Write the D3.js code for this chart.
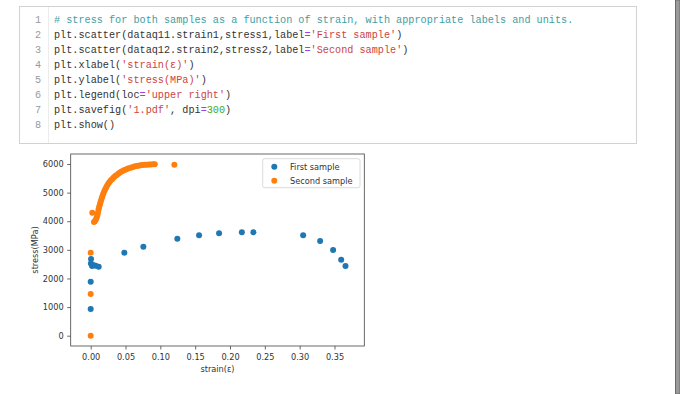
<!DOCTYPE html>
<html><head><meta charset="utf-8">
<script src="https://cdn.jsdelivr.net/npm/d3@7"></script>
<style>
html,body{margin:0;padding:0;background:#fff;}
svg{display:block;}
</style></head>
<body>
<svg id="c" width="680" height="394"></svg>
<script>
// ---- data ----
const seriesNames = ["First sample", "Second sample"];
const strain1 = [0, 0, 0.0005, 0.0003, 0.002, 0.0037, 0.0072, 0.0115, 0.0483, 0.0756, 0.1244, 0.1556, 0.1843, 0.217, 0.2336, 0.305, 0.3294, 0.348, 0.3596, 0.3658];
const stress1 = [933, 1887, 2680, 2520, 2440, 2470, 2446, 2411, 2900, 3110, 3390, 3508, 3578, 3613, 3613, 3508, 3309, 2995, 2656, 2436];
const strain2 = [0, 0, 0, 0.0023, 0.0047, 0.0060, 0.0075, 0.0085, 0.0095, 0.0105, 0.0112, 0.0120, 0.0128, 0.0136, 0.0145, 0.0155, 0.0165, 0.0178, 0.0190, 0.0205, 0.0220, 0.0235, 0.0252, 0.0270, 0.0290, 0.0310, 0.0330, 0.0352, 0.0375, 0.0400, 0.0425, 0.0450, 0.0478, 0.0505, 0.0535, 0.0565, 0.0595, 0.0625, 0.0655, 0.0685, 0.0715, 0.0745, 0.0775, 0.0805, 0.0835, 0.0865, 0.0895, 0.0920, 0.1201];
const stress2 = [0, 1457, 2900, 4298, 3970, 4000, 4060, 4120, 4200, 4300, 4400, 4480, 4550, 4620, 4700, 4780, 4860, 4940, 5020, 5100, 5170, 5240, 5310, 5370, 5430, 5480, 5530, 5580, 5620, 5670, 5710, 5745, 5780, 5810, 5840, 5865, 5890, 5910, 5928, 5942, 5955, 5965, 5972, 5978, 5982, 5985, 5988, 5990, 5976];
const xTicks = [0, 0.05, 0.10, 0.15, 0.20, 0.25, 0.30, 0.35];
const yTicks = [0, 1000, 2000, 3000, 4000, 5000, 6000];
const xLabel = "strain(ε)";
const yLabel = "stress(MPa)";

// code cell lines: [text, style]
const codeLines = [
  [["# stress for both samples as a function of strain, with appropriate labels and units.", "c"]],
  [["plt.scatter(dataq11.strain1,stress1,label", "n"], ["=", "o"], ["'First sample'", "s"], [")", "n"]],
  [["plt.scatter(dataq12.strain2,stress2,label", "n"], ["=", "o"], ["'Second sample'", "s"], [")", "n"]],
  [["plt.xlabel(", "n"], ["'strain(ε)'", "s"], [")", "n"]],
  [["plt.ylabel(", "n"], ["'stress(MPa)'", "s"], [")", "n"]],
  [["plt.legend(loc", "n"], ["=", "o"], ["'upper right'", "s"], [")", "n"]],
  [["plt.savefig(", "n"], ["'1.pdf'", "s"], [", dpi", "n"], ["=", "o"], ["300", "m"], [")", "n"]],
  [["plt.show()", "n"]]
];

const svg = d3.select("#c");
const colors = {c: "#3f9ea3", n: "#333", o: "#a040e0", s: "#cc4444", m: "#33aa33"};
const seriesColors = ["#1f77b4", "#ff7f0e"];

// ---- code cell ----
svg.append("rect").attr("x", 19.5).attr("y", 6.5).attr("width", 617).attr("height", 137)
  .attr("fill", "#fff").attr("stroke", "#d2d2d2").attr("stroke-width", 1);
svg.append("line").attr("x1", 48.5).attr("x2", 48.5).attr("y1", 7).attr("y2", 143)
  .attr("stroke", "#ececec").attr("stroke-width", 1);
const codeFs = 11.5, charW = 6.11, x0 = 54, baseY = 23.3, lineH = 14.89;
const sx = charW / (0.6001 * codeFs);
codeLines.forEach((toks, i) => {
  const y = baseY + i * lineH;
  svg.append("text").attr("transform", `translate(41,${y}) scale(${sx},1)`).attr("text-anchor", "end")
    .attr("font-family", "Liberation Mono").attr("font-size", codeFs).attr("fill", "#999").text(i + 1);
  const t = svg.append("text").attr("transform", `translate(${x0},${y}) scale(${sx},1)`)
    .attr("font-family", "Liberation Mono").attr("font-size", codeFs)
    .style("white-space", "pre");
  toks.forEach(([s, k]) => t.append("tspan").attr("fill", colors[k]).text(s));
});
// right scrollbar edge
svg.append("rect").attr("x", 675.5).attr("y", 0).attr("width", 4.5).attr("height", 394)
  .attr("fill", "#9a9a9a").attr("stroke", "#6a6a6a").attr("stroke-width", 1);

// ---- chart ----
const L = 70.7, R = 364.3, T = 154, B = 346;
const x = d3.scaleLinear().domain([-0.0287, 0.3928]).range([L, R]);
const y = d3.scaleLinear().domain([-360, 6350]).range([B, T]);
const font = "DejaVu Sans", fs = 8.2;

const gx = svg.append("g").attr("transform", `translate(0,${B})`)
  .call(d3.axisBottom(x).tickValues(xTicks).tickFormat(d3.format(".2f")).tickSize(3.5).tickPadding(4.5).tickSizeOuter(0));
const gy = svg.append("g").attr("transform", `translate(${L},0)`)
  .call(d3.axisLeft(y).tickValues(yTicks).tickFormat(d3.format("d")).tickSize(3.5).tickPadding(3.5).tickSizeOuter(0));
[gx, gy].forEach(g => {
  g.select(".domain").remove();
  g.selectAll("line").attr("stroke", "#444").attr("stroke-width", 0.8);
  g.selectAll("text").attr("font-family", font).attr("font-size", fs).attr("fill", "#333");
});

svg.append("rect").attr("x", L).attr("y", T).attr("width", R - L).attr("height", B - T)
  .attr("fill", "none").attr("stroke", "#444").attr("stroke-width", 0.8);

const s1 = strain1.map((d, i) => [d, stress1[i]]);
const s2 = strain2.map((d, i) => [d, stress2[i]]);
[s1, s2].forEach((data, k) => {
  svg.append("g").selectAll("circle").data(data).join("circle")
    .attr("cx", d => x(d[0])).attr("cy", d => y(d[1])).attr("r", 3)
    .attr("fill", seriesColors[k]);
});

svg.append("text").attr("x", (L + R) / 2).attr("y", 372).attr("text-anchor", "middle")
  .attr("font-family", font).attr("font-size", fs).attr("fill", "#333").text(xLabel);
svg.append("text").attr("transform", `translate(38,${(T + B) / 2}) rotate(-90)`).attr("text-anchor", "middle")
  .attr("font-family", font).attr("font-size", fs).attr("fill", "#333").text(yLabel);

// legend
const lg = svg.append("g");
lg.append("rect").attr("x", 262.7).attr("y", 158.7).attr("width", 97.3).attr("height", 29)
  .attr("rx", 2).attr("fill", "#fff").attr("fill-opacity", 0.8).attr("stroke", "#d0d0d0").attr("stroke-width", 0.8);
seriesNames.forEach((nm, i) => {
  const yy = 166.7 + i * 14;
  lg.append("circle").attr("cx", 274.3).attr("cy", yy).attr("r", 3).attr("fill", seriesColors[i]);
  lg.append("text").attr("x", 290).attr("y", yy + 3).attr("font-family", font).attr("font-size", fs)
    .attr("fill", "#333").text(nm);
});
</script>
</body></html>
